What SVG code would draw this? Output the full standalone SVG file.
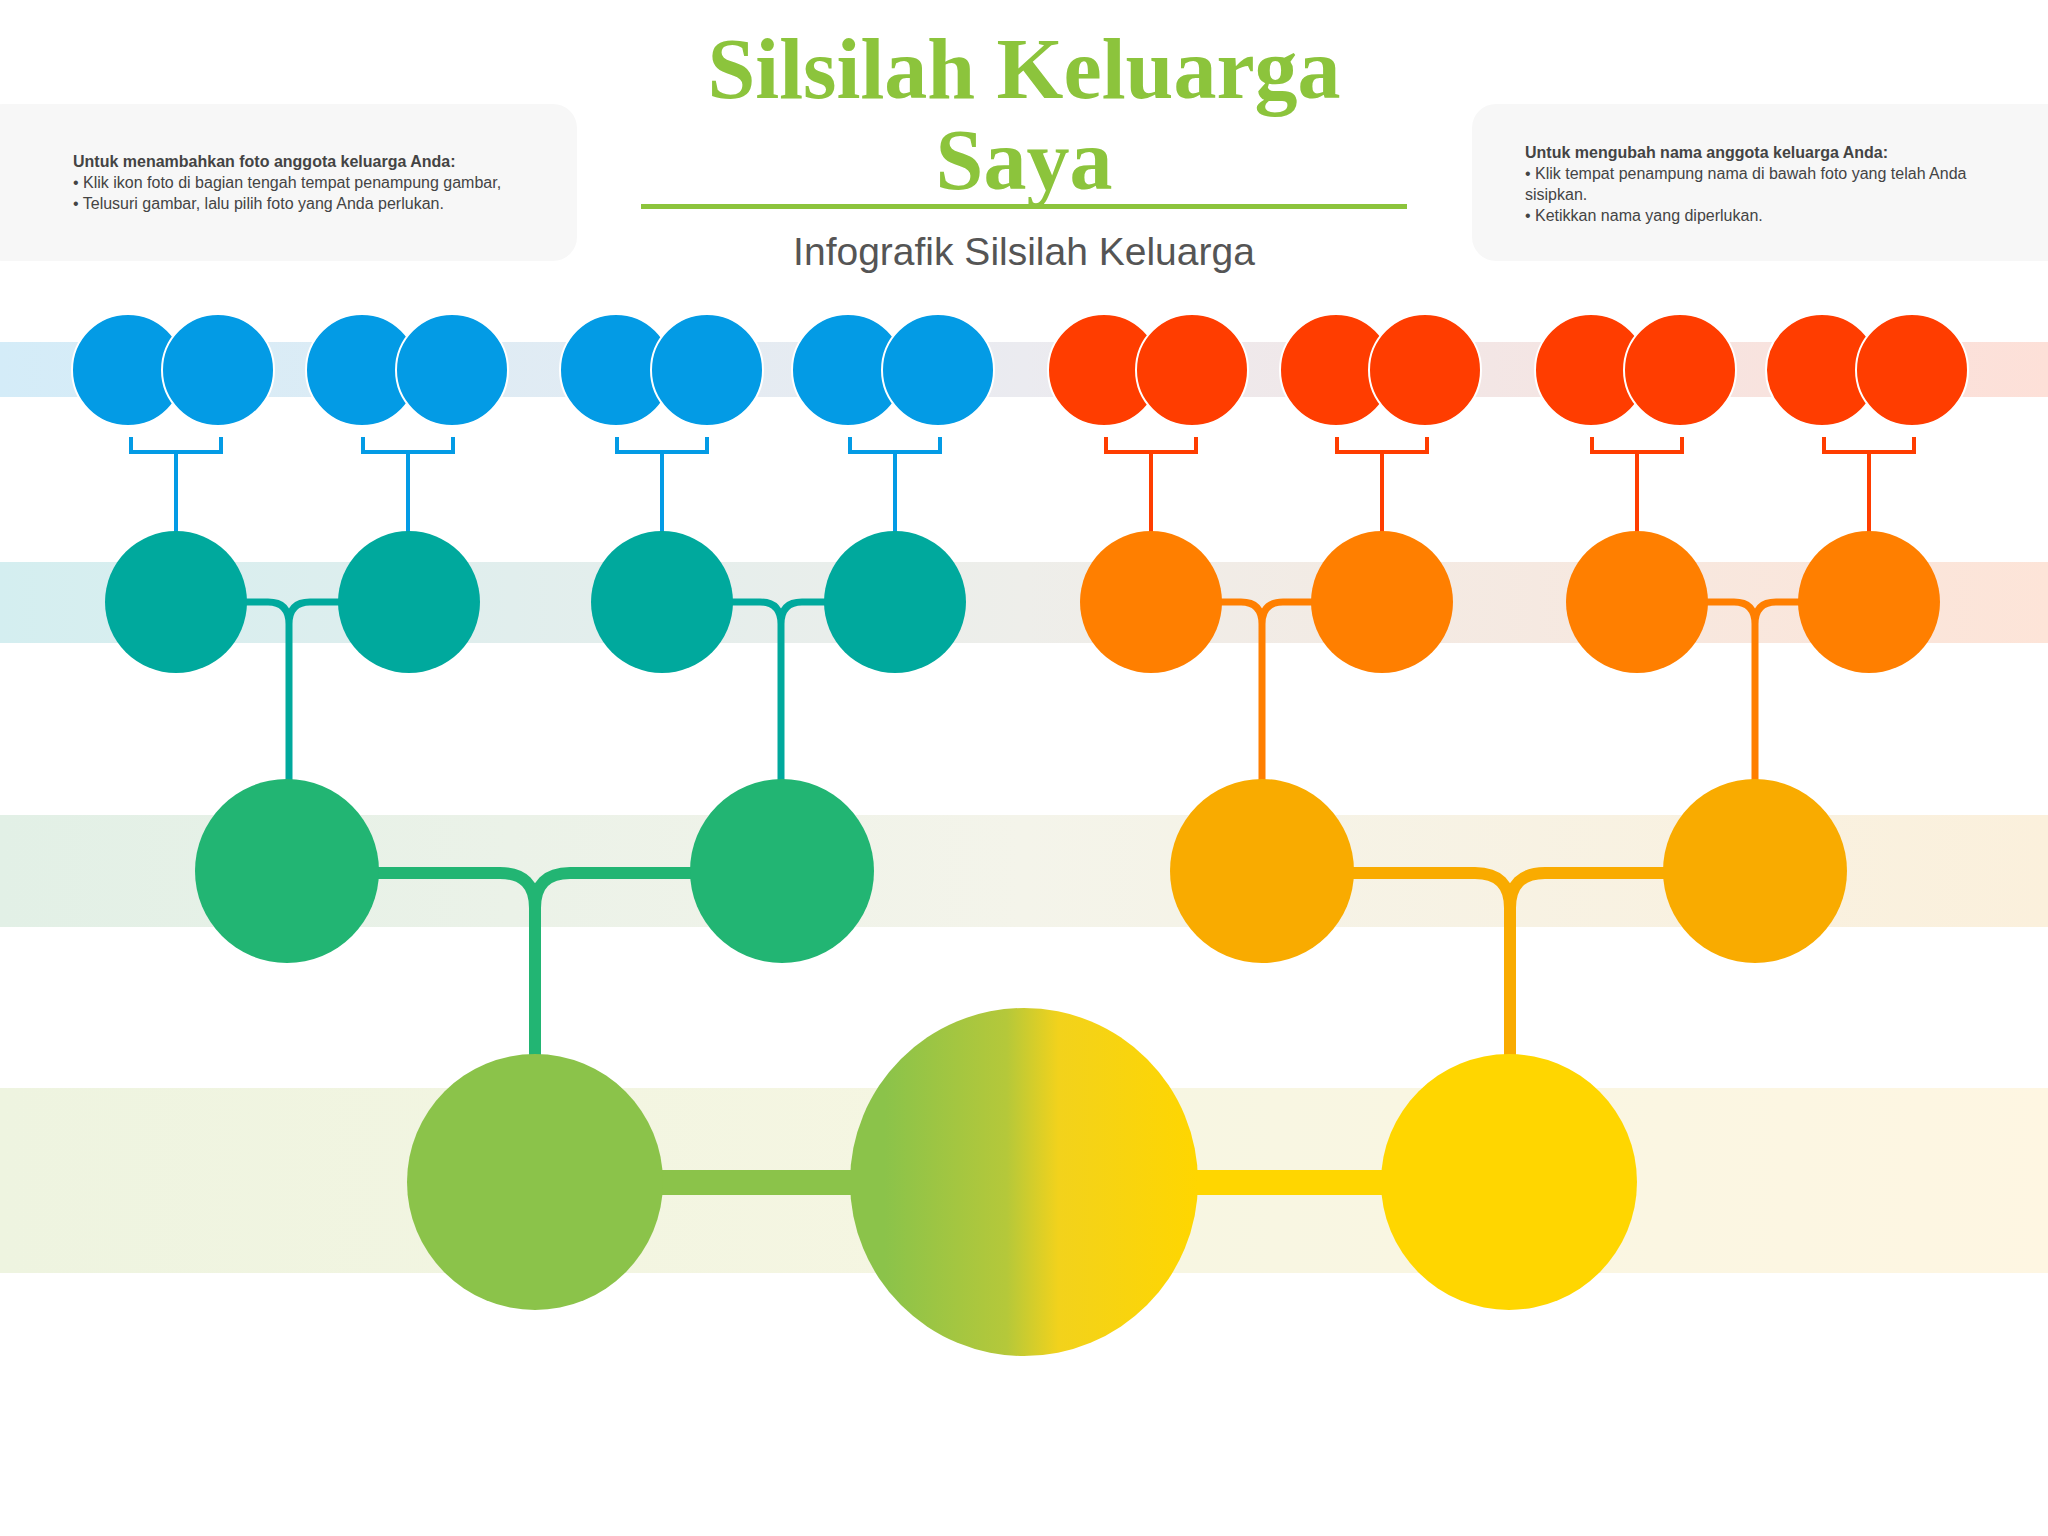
<svg xmlns="http://www.w3.org/2000/svg" width="2048" height="1536" viewBox="0 0 2048 1536">
<defs>
<linearGradient id="b1" x1="0" x2="1"><stop offset="0" stop-color="#d4ecf8"/><stop offset="0.5" stop-color="#ebebf0"/><stop offset="1" stop-color="#fde0d8"/></linearGradient>
<linearGradient id="b2" x1="0" x2="1"><stop offset="0" stop-color="#d4eef0"/><stop offset="0.5" stop-color="#eeeeea"/><stop offset="1" stop-color="#fde4d8"/></linearGradient>
<linearGradient id="b3" x1="0" x2="1"><stop offset="0" stop-color="#e2f0e6"/><stop offset="0.5" stop-color="#f4f4ea"/><stop offset="1" stop-color="#fbf0dc"/></linearGradient>
<linearGradient id="b4" x1="0" x2="1"><stop offset="0" stop-color="#eef4e0"/><stop offset="0.5" stop-color="#f6f6e2"/><stop offset="1" stop-color="#fef6e2"/></linearGradient>
<linearGradient id="mid" x1="0" x2="1"><stop offset="0.1" stop-color="#8BC34A"/><stop offset="0.45" stop-color="#b5c83a"/><stop offset="0.6" stop-color="#f2d21c"/><stop offset="1" stop-color="#FFD600"/></linearGradient>
<style>
.b{fill:#039BE5;stroke:#fff;stroke-width:2}
.r{fill:#FF3D00;stroke:#fff;stroke-width:2}
.t{fill:#00A99D}.o{fill:#FF7F00}.g{fill:#22B573}.a{fill:#F9AB00}
.info{font-family:"Liberation Sans",Arial,sans-serif;font-size:16px;fill:#444}
.bold{font-weight:bold}
path{fill:none}
</style>
</defs>
<rect width="2048" height="1536" fill="#fff"/>
<rect x="0" y="342" width="2048" height="55" fill="url(#b1)"/>
<rect x="0" y="562" width="2048" height="81" fill="url(#b2)"/>
<rect x="0" y="815" width="2048" height="112" fill="url(#b3)"/>
<rect x="0" y="1088" width="2048" height="185" fill="url(#b4)"/>
<g id="header">
<text x="1024" y="98" text-anchor="middle" font-family="Liberation Serif,serif" font-weight="bold" font-size="86" fill="#8CC43C">Silsilah Keluarga</text>
<text x="1024" y="189" text-anchor="middle" font-family="Liberation Serif,serif" font-weight="bold" font-size="86" fill="#8CC43C">Saya</text>
<rect x="641" y="204" width="766" height="5" fill="#8CC43C"/>
<text x="1024" y="265" text-anchor="middle" font-family="Liberation Sans,Arial,sans-serif" font-size="39" fill="#555">Infografik Silsilah Keluarga</text>
</g>
<g id="info-left">
<rect x="-20" y="104" width="597" height="157" rx="24" fill="#f7f7f7"/>
<text class="info bold" x="73" y="167">Untuk menambahkan foto anggota keluarga Anda:</text>
<text class="info" x="73" y="188">• Klik ikon foto di bagian tengah tempat penampung gambar,</text>
<text class="info" x="73" y="209">• Telusuri gambar, lalu pilih foto yang Anda perlukan.</text>
</g>
<g id="info-right">
<rect x="1472" y="104" width="600" height="157" rx="24" fill="#f7f7f7"/>
<text class="info bold" x="1525" y="158">Untuk mengubah nama anggota keluarga Anda:</text>
<text class="info" x="1525" y="179">• Klik tempat penampung nama di bawah foto yang telah Anda</text>
<text class="info" x="1525" y="200">sisipkan.</text>
<text class="info" x="1525" y="221">• Ketikkan nama yang diperlukan.</text>
</g>
<g id="connectors">
<g stroke="#039BE5" stroke-width="4">
<path d="M131 437 V452 H221 V437 M176 452 V532"/>
<path d="M363 437 V452 H453 V437 M408 452 V532"/>
<path d="M617 437 V452 H707 V437 M662 452 V532"/>
<path d="M850 437 V452 H940 V437 M895 452 V532"/>
</g>
<g stroke="#FF3D00" stroke-width="4">
<path d="M1106 437 V452 H1196 V437 M1151 452 V532"/>
<path d="M1337 437 V452 H1427 V437 M1382 452 V532"/>
<path d="M1592 437 V452 H1682 V437 M1637 452 V532"/>
<path d="M1824 437 V452 H1914 V437 M1869 452 V532"/>
</g>
<g stroke="#00A99D" stroke-width="7">
<path d="M240 602 H268 Q289 602 289 624 V785 M340 602 H310 Q289 602 289 624"/>
<path d="M726 602 H760 Q781 602 781 624 V785 M830 602 H802 Q781 602 781 624"/>
</g>
<g stroke="#FF7F00" stroke-width="7">
<path d="M1215 602 H1241 Q1262 602 1262 624 V785 M1320 602 H1283 Q1262 602 1262 624"/>
<path d="M1700 602 H1734 Q1755 602 1755 624 V785 M1805 602 H1776 Q1755 602 1755 624"/>
</g>
<path stroke="#22B573" stroke-width="12" d="M370 873 H500 Q535 873 535 908 V1060 M700 873 H570 Q535 873 535 908"/>
<path stroke="#F9AB00" stroke-width="12" d="M1345 873 H1475 Q1510 873 1510 908 V1060 M1670 873 H1545 Q1510 873 1510 908"/>
<rect x="655" y="1170" width="220" height="25" fill="#8BC34A"/>
<rect x="1180" y="1170" width="220" height="25" fill="#FFD600"/>
</g>
<g id="gen1">
<circle class="b" cx="128" cy="370" r="56"/><circle class="b" cx="218" cy="370" r="56"/>
<circle class="b" cx="362" cy="370" r="56"/><circle class="b" cx="452" cy="370" r="56"/>
<circle class="b" cx="616" cy="370" r="56"/><circle class="b" cx="707" cy="370" r="56"/>
<circle class="b" cx="848" cy="370" r="56"/><circle class="b" cx="938" cy="370" r="56"/>
<circle class="r" cx="1104" cy="370" r="56"/><circle class="r" cx="1192" cy="370" r="56"/>
<circle class="r" cx="1336" cy="370" r="56"/><circle class="r" cx="1425" cy="370" r="56"/>
<circle class="r" cx="1591" cy="370" r="56"/><circle class="r" cx="1680" cy="370" r="56"/>
<circle class="r" cx="1822" cy="370" r="56"/><circle class="r" cx="1912" cy="370" r="56"/>
</g>
<g id="gen2">
<circle class="t" cx="176" cy="602" r="71"/><circle class="t" cx="409" cy="602" r="71"/>
<circle class="t" cx="662" cy="602" r="71"/><circle class="t" cx="895" cy="602" r="71"/>
<circle class="o" cx="1151" cy="602" r="71"/><circle class="o" cx="1382" cy="602" r="71"/>
<circle class="o" cx="1637" cy="602" r="71"/><circle class="o" cx="1869" cy="602" r="71"/>
</g>
<g id="gen3">
<circle class="g" cx="287" cy="871" r="92"/><circle class="g" cx="782" cy="871" r="92"/>
<circle class="a" cx="1262" cy="871" r="92"/><circle class="a" cx="1755" cy="871" r="92"/>
</g>
<g id="gen4">
<circle cx="535" cy="1182" r="128" fill="#8BC34A"/>
<circle cx="1509" cy="1182" r="128" fill="#FFD600"/>
<circle cx="1024" cy="1182" r="174" fill="url(#mid)"/>
</g>
</svg>
